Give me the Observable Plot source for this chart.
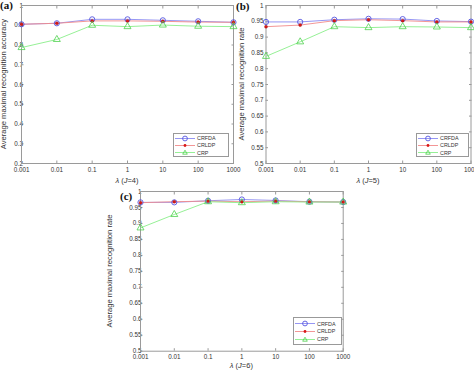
<!DOCTYPE html>
<html><head><meta charset="utf-8">
<script src="https://cdn.jsdelivr.net/npm/d3@7"></script>
<script src="https://cdn.jsdelivr.net/npm/@observablehq/plot@0.6"></script>
<style>
body{margin:0;background:#fff;}
#root{position:relative;width:474px;height:370px;overflow:hidden;font-family:"Liberation Sans",Arial,sans-serif;color:#333;}
.abs{position:absolute;}
.plabel{position:absolute;font-family:"Liberation Serif","Times New Roman",serif;font-weight:bold;font-size:11px;color:#111;line-height:1;}
.xlabel{position:absolute;font-size:7.5px;white-space:nowrap;transform:translateX(-50%);line-height:1;}
.ylabel{position:absolute;font-size:7.6px;white-space:nowrap;transform:translate(-50%,-50%) rotate(-90deg);line-height:1;}
.legend{position:absolute;background:#fff;border:1px solid #999;box-sizing:border-box;font-size:5.4px;}
.lrow{position:absolute;left:0;display:flex;align-items:center;height:7px;}
.lrow span{margin-left:2px;}
</style></head>
<body><div id="root"></div>
<script>
// ---- data ----
const lambdas = [0.001, 0.01, 0.1, 1, 10, 100, 1000];
const xTickLabels = ["0.001", "0.01", "0.1", "1", "10", "100", "1000"];
const seriesNames = ["CRFDA", "CRLDP", "CRP"];

const yTicksA = [0.2, 0.3, 0.4, 0.5, 0.6, 0.7, 0.8, 0.9, 1];
const yTickLabelsA = ["0.2", "0.3", "0.4", "0.5", "0.6", "0.7", "0.8", "0.9", "1"];
const yTicksBC = [0.5, 0.55, 0.6, 0.65, 0.7, 0.75, 0.8, 0.85, 0.9, 0.95, 1];
const yTickLabelsBC = ["0.5", "0.55", "0.6", "0.65", "0.7", "0.75", "0.8", "0.85", "0.9", "0.95", "1"];

// (a) J=4
const aCRFDA = [0.905, 0.910, 0.930, 0.930, 0.925, 0.920, 0.915];
const aCRLDP = [0.905, 0.910, 0.922, 0.922, 0.920, 0.916, 0.915];
const aCRP   = [0.787, 0.828, 0.900, 0.893, 0.901, 0.895, 0.893];
// (b) J=5
const bCRFDA = [0.948, 0.948, 0.955, 0.958, 0.957, 0.951, 0.949];
const bCRLDP = [0.933, 0.938, 0.952, 0.955, 0.952, 0.948, 0.948];
const bCRP   = [0.839, 0.885, 0.933, 0.930, 0.933, 0.932, 0.930];
// (c) J=6
const cCRFDA = [0.966, 0.966, 0.971, 0.975, 0.972, 0.968, 0.967];
const cCRLDP = [0.965, 0.968, 0.970, 0.968, 0.970, 0.968, 0.967];
const cCRP   = [0.886, 0.928, 0.968, 0.965, 0.968, 0.967, 0.967];

const yLabelA = "Average maximal recognition accuracy";
const yLabelBC = "Average maximal recognition rate";

// ---- styles ----
const lineColor = {CRFDA: "#8a8af2", CRLDP: "#f28a8a", CRP: "#8aee8a"};
const markColor = {CRFDA: "#5555e0", CRLDP: "#d81818", CRP: "#4fd04f"};
const axisColor = "#9a9a9a";

const root = document.getElementById("root");

function rowsOf(vals) {
  const rows = [];
  seriesNames.forEach((s, si) => vals[si].forEach((v, i) => rows.push({series: s, lambda: lambdas[i], value: v})));
  return rows;
}

function panel(cfg) {
  const rows = rowsOf(cfg.values);
  const bySeries = s => rows.filter(r => r.series === s);
  const fmtY = d => cfg.yLabels[cfg.yTicks.indexOf(d)];
  const fmtX = d => xTickLabels[lambdas.indexOf(d)];
  const p = Plot.plot({
    width: cfg.w, height: cfg.h,
    marginLeft: cfg.ml, marginRight: cfg.mr, marginTop: cfg.mt, marginBottom: cfg.mb,
    x: {type: "log", domain: [lambdas[0], lambdas[lambdas.length - 1]]},
    y: {domain: [cfg.yTicks[0], cfg.yTicks[cfg.yTicks.length - 1]]},
    style: {fontFamily: "'Liberation Sans', Arial, sans-serif", fontSize: "6.3px", color: "#333", background: "transparent", overflow: "visible"},
    marks: [
      Plot.axisX({ticks: lambdas, tickFormat: fmtX, tickSize: -2.5, tickPadding: cfg.txpad, label: null, stroke: axisColor}),
      Plot.axisX({anchor: "top", ticks: lambdas, tickFormat: () => "", tickSize: -2.5, label: null, stroke: axisColor}),
      Plot.axisY({ticks: cfg.yTicks, tickFormat: fmtY, tickSize: -2.5, tickPadding: cfg.typad, label: null, stroke: axisColor}),
      Plot.axisY({anchor: "right", ticks: cfg.yTicks, tickFormat: () => "", tickSize: -2.5, label: null, stroke: axisColor}),
      Plot.frame({stroke: axisColor, strokeWidth: 1}),
      ...seriesNames.map(s => Plot.line(bySeries(s), {x: "lambda", y: "value", stroke: lineColor[s], strokeWidth: 0.9})),
      Plot.dot(bySeries("CRFDA"), {x: "lambda", y: "value", r: 2.6, stroke: markColor.CRFDA, strokeWidth: 0.9, fill: "none"}),
      Plot.dot(bySeries("CRLDP"), {x: "lambda", y: "value", r: 1.5, fill: markColor.CRLDP, stroke: "#a01010", strokeWidth: 0.4}),
      Plot.dot(bySeries("CRP"), {x: "lambda", y: "value", symbol: "triangle", r: 2.6, stroke: markColor.CRP, strokeWidth: 0.8, fill: "none"})
    ]
  });
  const wrap = document.createElement("div");
  wrap.className = "abs";
  wrap.style.left = cfg.x + "px";
  wrap.style.top = cfg.y + "px";
  wrap.appendChild(p);
  root.appendChild(wrap);

  // panel label
  const pl = document.createElement("div");
  pl.className = "plabel";
  pl.style.left = cfg.plx + "px"; pl.style.top = cfg.ply + "px";
  pl.textContent = cfg.tag;
  root.appendChild(pl);

  // x label
  const xl = document.createElement("div");
  xl.className = "xlabel";
  xl.style.left = (cfg.x + cfg.ml + (cfg.w - cfg.ml - cfg.mr) / 2) + "px";
  xl.style.top = cfg.xly + "px";
  xl.innerHTML = "<i>λ</i> (<i>J</i>=" + cfg.J + ")";
  root.appendChild(xl);

  // y label
  const yl = document.createElement("div");
  yl.className = "ylabel";
  yl.style.left = cfg.ylx + "px";
  yl.style.top = (cfg.y + cfg.mt + (cfg.h - cfg.mt - cfg.mb) / 2) + "px";
  yl.textContent = cfg.ylabel;
  root.appendChild(yl);

  // legend
  const lg = document.createElement("div");
  lg.className = "legend";
  lg.style.left = cfg.lg[0] + "px"; lg.style.top = cfg.lg[1] + "px";
  lg.style.width = cfg.lg[2] + "px"; lg.style.height = cfg.lg[3] + "px";
  seriesNames.forEach((s, i) => {
    const r = document.createElement("div");
    r.className = "lrow";
    r.style.top = (cfg.lgRow0 + i * cfg.lgStep - 3.5) + "px";
    let m;
    if (s === "CRFDA") m = `<circle cx="10" cy="3.5" r="2.4" fill="none" stroke="${markColor[s]}" stroke-width="0.9"/>`;
    else if (s === "CRLDP") m = `<circle cx="10" cy="3.5" r="1.4" fill="${markColor[s]}"/>`;
    else m = `<path d="M10,1.2 L12.3,5.2 L7.7,5.2 Z" fill="none" stroke="${markColor[s]}" stroke-width="0.8"/>`;
    r.innerHTML = `<svg width="${cfg.lgLine}" height="7" style="margin-left:1px"><line x1="0" x2="20" y1="3.5" y2="3.5" stroke="${lineColor[s]}" stroke-width="0.9"/>${m}</svg><span>${s}</span>`;
    lg.appendChild(r);
  });
  root.appendChild(lg);
}

panel({tag: "(a)", J: 4, x: 0, y: 0, w: 240, h: 190, ml: 21, mr: 7, mt: 5, mb: 27, typad: 1, txpad: 7,
  yTicks: yTicksA, yLabels: yTickLabelsA, values: [aCRFDA, aCRLDP, aCRP], ylabel: yLabelA,
  plx: 0, ply: 0, xly: 177, ylx: 4,
  lg: [173, 133, 56, 24], lgRow0: 4, lgStep: 7.3, lgLine: 20});

panel({tag: "(b)", J: 5, x: 234, y: 0, w: 240, h: 190, ml: 31.5, mr: 3.5, mt: 5, mb: 27, typad: 5, txpad: 7,
  yTicks: yTicksBC, yLabels: yTickLabelsBC, values: [bCRFDA, bCRLDP, bCRP], ylabel: yLabelBC,
  plx: 236, ply: 1, xly: 177, ylx: 242,
  lg: [416, 133, 53, 24], lgRow0: 4, lgStep: 7.3, lgLine: 20});

panel({tag: "(c)", J: 6, x: 100, y: 186, w: 250, h: 190, ml: 40, mr: 7.3, mt: 5, mb: 25.3, typad: 1.5, txpad: 6,
  yTicks: yTicksBC, yLabels: yTickLabelsBC, values: [cCRFDA, cCRLDP, cCRP], ylabel: yLabelBC,
  plx: 120, ply: 191, xly: 362, ylx: 110,
  lg: [293, 317, 49, 28], lgRow0: 5.5, lgStep: 7.8, lgLine: 20});
</script>
</body></html>
